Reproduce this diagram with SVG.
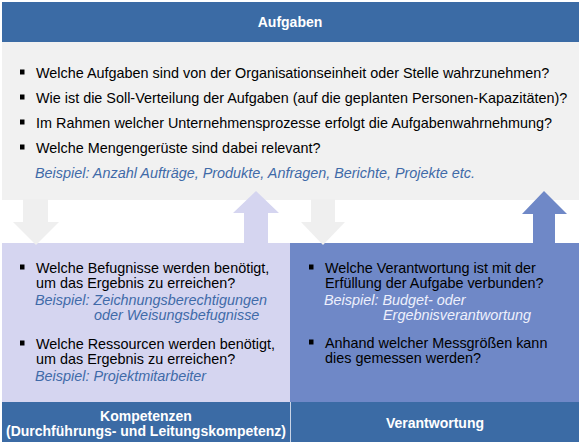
<svg xmlns="http://www.w3.org/2000/svg" width="581" height="444" viewBox="0 0 581 444">
<style>
.t{font-family:"Liberation Sans",Arial,sans-serif;font-size:14.4px;fill:#000}
.i{font-family:"Liberation Sans",Arial,sans-serif;font-size:14.4px;font-style:italic;fill:#3f6aa8}
.iw{font-family:"Liberation Sans",Arial,sans-serif;font-size:14.4px;font-style:italic;fill:#eef0fc}
.h{font-family:"Liberation Sans",Arial,sans-serif;font-size:14px;font-weight:bold;fill:#fff;text-anchor:middle}
.b{fill:#000}
</style>
<rect width="581" height="444" fill="#fff"/>
<g id="aufgaben">
<rect x="2" y="2" width="577" height="40" fill="#3b6ba5"/>
<rect x="2" y="42" width="577" height="158" fill="#f1f1f1"/>
<text class="h" x="290" y="27">Aufgaben</text>
<rect class="b" x="20" y="69.5" width="4.5" height="5"/>
<text class="t" x="36" y="78">Welche Aufgaben sind von der Organisationseinheit oder Stelle wahrzunehmen?</text>
<rect class="b" x="20" y="94.5" width="4.5" height="5"/>
<text class="t" x="36" y="103">Wie ist die Soll-Verteilung der Aufgaben (auf die geplanten Personen-Kapazitäten)?</text>
<rect class="b" x="20" y="119.5" width="4.5" height="5"/>
<text class="t" x="36" y="128">Im Rahmen welcher Unternehmensprozesse erfolgt die Aufgabenwahrnehmung?</text>
<rect class="b" x="20" y="144.5" width="4.5" height="5"/>
<text class="t" x="36" y="153">Welche Mengengerüste sind dabei relevant?</text>
<text class="i" x="35" y="178">Beispiel: Anzahl Aufträge, Produkte, Anfragen, Berichte, Projekte etc.</text>
</g>
<g id="kompetenzen">
<rect x="2" y="243" width="288" height="159" fill="#d5d5f0"/>
<rect class="b" x="20" y="264.5" width="4.5" height="5"/>
<text class="t" x="36" y="273">Welche Befugnisse werden benötigt,</text>
<text class="t" x="36" y="288">um das Ergebnis zu erreichen?</text>
<text class="i" x="35" y="305">Beispiel: Zeichnungsberechtigungen</text>
<text class="i" x="94" y="320">oder Weisungsbefugnisse</text>
<rect class="b" x="20" y="340.5" width="4.5" height="5"/>
<text class="t" x="36" y="349">Welche Ressourcen werden benötigt,</text>
<text class="t" x="36" y="364">um das Ergebnis zu erreichen?</text>
<text class="i" x="35" y="381">Beispiel: Projektmitarbeiter</text>
</g>
<g id="verantwortung">
<rect x="290" y="243" width="289" height="159" fill="#6f88c7"/>
<rect class="b" x="309" y="264.5" width="4.5" height="5"/>
<text class="t" x="325" y="273">Welche Verantwortung ist mit der</text>
<text class="t" x="325" y="288">Erfüllung der Aufgabe verbunden?</text>
<text class="iw" x="324" y="305">Beispiel: Budget- oder</text>
<text class="iw" x="383" y="320">Ergebnisverantwortung</text>
<rect class="b" x="309" y="339.5" width="4.5" height="5"/>
<text class="t" x="325" y="348">Anhand welcher Messgrößen kann</text>
<text class="t" x="325" y="363">dies gemessen werden?</text>
</g>
<g id="footer-kompetenzen">
<rect x="2" y="402" width="288" height="40" fill="#3b6ba5"/>
<text class="h" x="146" y="421">Kompetenzen</text>
<text class="h" x="146" y="436">(Durchführungs- und Leitungskompetenz)</text>
</g>
<g id="footer-verantwortung">
<rect x="291" y="402" width="288" height="40" fill="#3b6ba5"/>
<text class="h" x="435" y="428">Verantwortung</text>
</g>
<line x1="290.5" y1="402" x2="290.5" y2="442" stroke="#c9d4e6" stroke-width="1"/>
<g id="connectors">
<polygon points="23,199 48,199 48,222 59,222 36,245 13,222 23,222" fill="#efefef"/>
<polygon points="311,199 335,199 335,222 345,222 323,245 301,222 311,222" fill="#efefef"/>
<polygon points="256,191 279,213 268,213 268,244 244,244 244,213 233,213" fill="#d5d5f0"/>
<polygon points="544,191 567,214 555,214 555,244 533,244 533,214 522,214" fill="#6f88c7"/>
</g>
</svg>
